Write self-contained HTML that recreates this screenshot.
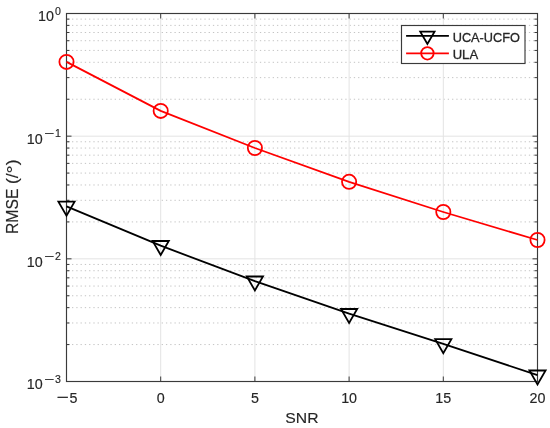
<!DOCTYPE html><html><head><meta charset="utf-8"><style>html,body{margin:0;padding:0;background:#fff;width:550px;height:428px;overflow:hidden}svg{display:block}text{font-family:'Liberation Sans', Arial, Helvetica, sans-serif;fill:#262626;stroke:#262626;stroke-width:0.15px}.lg{stroke-width:0.3px}</style></head><body>
<svg width="550" height="428" viewBox="0 0 550 428">
<rect x="0" y="0" width="550" height="428" fill="#fff"/>
<path d="M67.00 99.24H537.00M67.00 77.64H537.00M67.00 62.31H537.00M67.00 50.43H537.00M67.00 40.71H537.00M67.00 32.50H537.00M67.00 25.39H537.00M67.00 19.11H537.00M67.00 221.91H537.00M67.00 200.31H537.00M67.00 184.98H537.00M67.00 173.09H537.00M67.00 163.38H537.00M67.00 155.17H537.00M67.00 148.05H537.00M67.00 141.78H537.00M67.00 344.57H537.00M67.00 322.97H537.00M67.00 307.65H537.00M67.00 295.76H537.00M67.00 286.05H537.00M67.00 277.83H537.00M67.00 270.72H537.00M67.00 264.45H537.00" stroke="#c4c4c4" stroke-width="1" stroke-dasharray="1.3 2.97" stroke-dashoffset="-5" fill="none"/>
<path d="M160.70 13.50V381.50M254.90 13.50V381.50M349.10 13.50V381.50M443.30 13.50V381.50M66.50 136.17H537.50M66.50 258.83H537.50" stroke="#e3e3e3" stroke-width="1" fill="none"/>
<path d="M66.50 381.50V376.50M66.50 13.50V18.50M160.70 381.50V376.50M160.70 13.50V18.50M254.90 381.50V376.50M254.90 13.50V18.50M349.10 381.50V376.50M349.10 13.50V18.50M443.30 381.50V376.50M443.30 13.50V18.50M537.50 381.50V376.50M537.50 13.50V18.50M66.50 13.50H71.50M537.50 13.50H532.50M66.50 136.17H71.50M537.50 136.17H532.50M66.50 258.83H71.50M537.50 258.83H532.50M66.50 381.50H71.50M537.50 381.50H532.50M66.50 99.24H69.50M537.50 99.24H534.50M66.50 77.64H69.50M537.50 77.64H534.50M66.50 62.31H69.50M537.50 62.31H534.50M66.50 50.43H69.50M537.50 50.43H534.50M66.50 40.71H69.50M537.50 40.71H534.50M66.50 32.50H69.50M537.50 32.50H534.50M66.50 25.39H69.50M537.50 25.39H534.50M66.50 19.11H69.50M537.50 19.11H534.50M66.50 221.91H69.50M537.50 221.91H534.50M66.50 200.31H69.50M537.50 200.31H534.50M66.50 184.98H69.50M537.50 184.98H534.50M66.50 173.09H69.50M537.50 173.09H534.50M66.50 163.38H69.50M537.50 163.38H534.50M66.50 155.17H69.50M537.50 155.17H534.50M66.50 148.05H69.50M537.50 148.05H534.50M66.50 141.78H69.50M537.50 141.78H534.50M66.50 344.57H69.50M537.50 344.57H534.50M66.50 322.97H69.50M537.50 322.97H534.50M66.50 307.65H69.50M537.50 307.65H534.50M66.50 295.76H69.50M537.50 295.76H534.50M66.50 286.05H69.50M537.50 286.05H534.50M66.50 277.83H69.50M537.50 277.83H534.50M66.50 270.72H69.50M537.50 270.72H534.50M66.50 264.45H69.50M537.50 264.45H534.50" stroke="#3a3a3a" stroke-width="1" fill="none"/>
<rect x="66.50" y="13.50" width="471.00" height="368.00" fill="none" stroke="#3a3a3a" stroke-width="1.15"/>
<polyline points="66.50,206.30 160.70,245.70 254.90,281.20 349.10,313.70 443.30,343.80 537.50,375.20" fill="none" stroke="#000" stroke-width="1.80" stroke-linejoin="round"/>
<polyline points="66.50,61.90 160.70,110.90 254.90,148.00 349.10,181.80 443.30,212.00 537.50,240.00" fill="none" stroke="#f00" stroke-width="1.80" stroke-linejoin="round"/>
<path d="M58.40 201.62H74.60L66.50 215.65Z" fill="none" stroke="#000" stroke-width="1.80" stroke-linejoin="miter"/>
<path d="M152.60 241.02H168.80L160.70 255.05Z" fill="none" stroke="#000" stroke-width="1.80" stroke-linejoin="miter"/>
<path d="M246.80 276.52H263.00L254.90 290.55Z" fill="none" stroke="#000" stroke-width="1.80" stroke-linejoin="miter"/>
<path d="M341.00 309.02H357.20L349.10 323.05Z" fill="none" stroke="#000" stroke-width="1.80" stroke-linejoin="miter"/>
<path d="M435.20 339.12H451.40L443.30 353.15Z" fill="none" stroke="#000" stroke-width="1.80" stroke-linejoin="miter"/>
<path d="M529.40 370.52H545.60L537.50 384.55Z" fill="none" stroke="#000" stroke-width="1.80" stroke-linejoin="miter"/>
<circle cx="66.50" cy="61.90" r="7.10" fill="none" stroke="#f00" stroke-width="1.80"/>
<circle cx="160.70" cy="110.90" r="7.10" fill="none" stroke="#f00" stroke-width="1.80"/>
<circle cx="254.90" cy="148.00" r="7.10" fill="none" stroke="#f00" stroke-width="1.80"/>
<circle cx="349.10" cy="181.80" r="7.10" fill="none" stroke="#f00" stroke-width="1.80"/>
<circle cx="443.30" cy="212.00" r="7.10" fill="none" stroke="#f00" stroke-width="1.80"/>
<circle cx="537.50" cy="240.00" r="7.10" fill="none" stroke="#f00" stroke-width="1.80"/>
<text x="69.45" y="402.7" font-size="14.30">5</text>
<text x="56.3" y="402.2" font-size="14.30" textLength="12.3" lengthAdjust="spacingAndGlyphs">&#8722;</text>
<text x="160.70" y="402.7" font-size="14.30" text-anchor="middle">0</text>
<text x="254.90" y="402.7" font-size="14.30" text-anchor="middle">5</text>
<text x="349.10" y="402.7" font-size="14.30" text-anchor="middle">10</text>
<text x="443.30" y="402.7" font-size="14.30" text-anchor="middle">15</text>
<text x="537.50" y="402.7" font-size="14.30" text-anchor="middle">20</text>
<text x="53.9" y="21.30" font-size="14.30" text-anchor="end">10</text>
<text x="60.8" y="14.80" font-size="10.60" text-anchor="end">0</text>
<text x="42.6" y="143.97" font-size="14.30" text-anchor="end">10</text>
<text x="44.0" y="137.47" font-size="10.60" textLength="9.9" lengthAdjust="spacingAndGlyphs">&#8722;</text>
<text x="60.8" y="137.47" font-size="10.60" text-anchor="end">1</text>
<text x="42.6" y="266.63" font-size="14.30" text-anchor="end">10</text>
<text x="44.0" y="260.13" font-size="10.60" textLength="9.9" lengthAdjust="spacingAndGlyphs">&#8722;</text>
<text x="60.8" y="260.13" font-size="10.60" text-anchor="end">2</text>
<text x="42.6" y="389.30" font-size="14.30" text-anchor="end">10</text>
<text x="44.0" y="382.80" font-size="10.60" textLength="9.9" lengthAdjust="spacingAndGlyphs">&#8722;</text>
<text x="60.8" y="382.80" font-size="10.60" text-anchor="end">3</text>
<text x="301.9" y="423.2" font-size="14.8" text-anchor="middle" textLength="33.2" lengthAdjust="spacingAndGlyphs">SNR</text>
<text transform="translate(17.60 234.00) rotate(-90)" x="0" y="0" font-size="15.80" textLength="45.40" lengthAdjust="spacingAndGlyphs">RMSE</text>
<text transform="translate(17.60 159.60) rotate(-90)" x="0" y="0" font-size="15.80" text-anchor="end" textLength="24.50" lengthAdjust="spacingAndGlyphs">(/<tspan font-size="18.5" dy="2.6">&#176;</tspan><tspan dy="-2.6">)</tspan></text>
<rect x="401.5" y="25.5" width="123.5" height="38" fill="#fff" stroke="#3a3a3a" stroke-width="1.15"/>
<path d="M406.1 35.8H448.9" stroke="#000" stroke-width="1.80"/>
<path d="M420.25 31.67H434.55L427.40 44.06Z" fill="none" stroke="#000" stroke-width="1.80" stroke-linejoin="miter"/>
<path d="M406.1 53.3H448.9" stroke="#f00" stroke-width="1.80"/>
<circle cx="427.40" cy="53.30" r="6.25" fill="none" stroke="#f00" stroke-width="1.80"/>
<text class="lg" x="452.7" y="41.6" font-size="13.2" textLength="67.2" lengthAdjust="spacingAndGlyphs">UCA-UCFO</text>
<text class="lg" x="452.7" y="58.8" font-size="13.2" textLength="25.4" lengthAdjust="spacingAndGlyphs">ULA</text>
</svg></body></html>
